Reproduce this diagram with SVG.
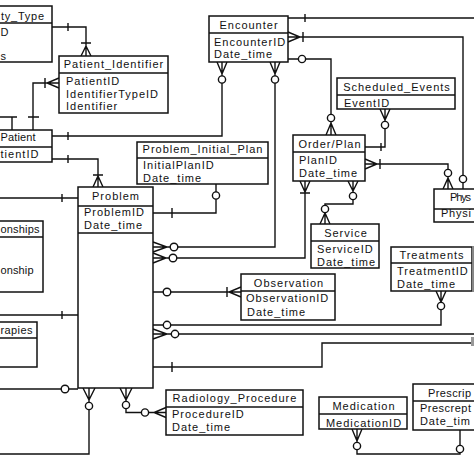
<svg xmlns="http://www.w3.org/2000/svg" width="474" height="474" viewBox="0 0 474 474">
<style>
.box{fill:#fff;stroke:#111;stroke-width:1.5}
.sep{fill:none;stroke:#111;stroke-width:1.4}
.ln{fill:none;stroke:#111;stroke-width:1.4}
.ci{fill:#fff;stroke:#111;stroke-width:1.4}
.t{font-family:"Liberation Sans",Arial,sans-serif;font-size:11px;letter-spacing:1px;fill:#111}
.h{text-anchor:middle}
</style>
<rect x="0" y="0" width="474" height="474" fill="#fff"/>
<g id="connectors">
  <g id="c1"><path class="ln" d="M52,27 H86 V56 M68,23 V31 M81,56 L86,46 L91,56 M81,43 H91"/></g>
  <g id="c2"><path class="ln" d="M59,83 H33 V130 M59,78 L47,83 L59,88 M45,78 V88 M28,117 H39"/></g>
  <g id="c3"><path class="ln" d="M0,117 H17 M12,117 V130"/></g>
  <g id="c4"><path class="ln" d="M52,136 H222 V62 M68,132 V140 M217,62 L222,74 L227,62"/><circle class="ci" cx="222" cy="79.5" r="3.6"/></g>
  <g id="c5"><path class="ln" d="M52,159 H98 V187 M68,155 V163 M93,187 L98,176 L103,187 M93,175 H103"/></g>
  <g id="c6"><path class="ln" d="M0,198 H78 M62,194 V202"/></g>
  <g id="c7"><path class="ln" d="M288,18 H474 M305,14 V22"/></g>
  <g id="c8"><path class="ln" d="M288,37 H463 V189 M288,32 L300,37 L288,42 M303,32 V42"/><circle class="ci" cx="463" cy="179" r="3.6"/></g>
  <g id="c9"><path class="ln" d="M288,59 H331 V135 M326,135 L331,123 L336,135"/><circle class="ci" cx="302" cy="59" r="3.6"/><circle class="ci" cx="331" cy="118" r="3.6"/></g>
  <g id="c10"><path class="ln" d="M275,62 V247 H153 M270,62 L275,74 L280,62 M153,242 L167,247 L153,252"/><circle class="ci" cx="275" cy="79.5" r="3.6"/><circle class="ci" cx="174" cy="247" r="3.8"/></g>
  <g id="c11"><path class="ln" d="M305,181 V258 H153 M300,181 L305,192 L310,181 M300,193 H310 M153,253 L166,258 L153,263"/><circle class="ci" cx="173" cy="258" r="3.8"/></g>
  <g id="c12"><path class="ln" d="M385,109 V147 H365 M380,109 L385,120 L390,109 M381,143 V151"/><circle class="ci" cx="385" cy="125" r="3.6"/></g>
  <g id="c13"><path class="ln" d="M365,164 H448 V189 M365,159 L377,164 L365,169 M380,159 V169 M443,189 L448,178 L453,189"/><circle class="ci" cx="448" cy="173" r="3.6"/></g>
  <g id="c14"><path class="ln" d="M353,181 V204 H325 V224 M348,181 L353,191 L358,181 M320,224 L325,213 L330,224"/><circle class="ci" cx="353" cy="196" r="3.6"/><circle class="ci" cx="325" cy="209" r="3.6"/></g>
  <g id="c15"><path class="ln" d="M216,184 V213 H153 M172,208 V218"/><circle class="ci" cx="216" cy="195.5" r="3.6"/></g>
  <g id="c16"><path class="ln" d="M153,292 H241 M241,287 L229,292 L241,297 M227,287 V297"/><circle class="ci" cx="167" cy="292" r="3.8"/></g>
  <g id="c17"><path class="ln" d="M153,325 H441 V291 M436,291 L441,302 L446,291"/><circle class="ci" cx="167" cy="325" r="3.7"/><circle class="ci" cx="441" cy="306" r="3.6"/></g>
  <g id="c18"><path class="ln" d="M153,334 H474 M153,329 L167,334 L153,339"/><circle class="ci" cx="175" cy="334" r="3.7"/></g>
  <g id="c19"><path class="ln" d="M153,367 H322 V343 H474 M172,362 V372"/><rect x="471" y="337" width="3" height="9" fill="#999"/></g>
  <g id="c20"><path class="ln" d="M0,315 H78 M62,311 V319"/></g>
  <g id="c21"><path class="ln" d="M0,389 H78"/><circle class="ci" cx="65" cy="389" r="3.8"/></g>
  <g id="c22"><path class="ln" d="M89,388 V454 H0 M83,388 L89,400 L95,388"/><circle class="ci" cx="89" cy="406" r="3.6"/></g>
  <g id="c23"><path class="ln" d="M126,388 V412.5 H166 M120,388 L126,400 L132,388 M166,407.5 L154,412.5 L166,417.5"/><circle class="ci" cx="126" cy="405" r="3.6"/><circle class="ci" cx="145" cy="412.5" r="3.6"/></g>
  <g id="c24"><path class="ln" d="M357,429 V454 H460 V430 M352,429 L357,441 L362,429"/><circle class="ci" cx="357" cy="446" r="3.6"/><circle class="ci" cx="460" cy="449" r="3.6"/></g>
</g>
<g id="Identity_Type">
  <rect class="box" x="-10" y="6" width="62" height="56"/><path class="sep" d="M-10,23 H52"/>
  <text class="t" x="1" y="20" textLength="44" lengthAdjust="spacing">ty_Type</text>
  <text class="t" x="0.5" y="36">D</text>
  <text class="t" x="0.5" y="60">s</text>
</g>
<g id="Patient_Identifier">
  <rect class="box" x="59" y="56" width="109" height="57"/><path class="sep" d="M59,73 H168"/>
  <text class="t h" x="114" y="68">Patient_Identifier</text>
  <text class="t" x="66" y="85">PatientID</text>
  <text class="t" x="66" y="97.5">IdentifierTypeID</text>
  <text class="t" x="66" y="110">Identifier</text>
</g>
<g id="Patient">
  <rect class="box" x="-10" y="130" width="62" height="32"/><path class="sep" d="M-10,147 H52"/>
  <text class="t" x="0.5" y="141" textLength="36" lengthAdjust="spacing">Patient</text>
  <text class="t" x="0.5" y="158" textLength="39" lengthAdjust="spacing">tientID</text>
</g>
<g id="Encounter">
  <rect class="box" x="209" y="16" width="79" height="46"/><path class="sep" d="M209,33 H288"/>
  <text class="t h" x="249" y="29">Encounter</text>
  <text class="t" x="214" y="46">EncounterID</text>
  <text class="t" x="214" y="57.5">Date_time</text>
</g>
<g id="Scheduled_Events">
  <rect class="box" x="337" y="78" width="118" height="31"/><path class="sep" d="M337,95 H455"/>
  <text class="t h" x="397" y="91">Scheduled_Events</text>
  <text class="t" x="344" y="106.5">EventID</text>
</g>
<g id="Order_Plan">
  <rect class="box" x="293" y="135" width="72" height="46"/><path class="sep" d="M293,152 H365"/>
  <text class="t h" x="330" y="148">Order/Plan</text>
  <text class="t" x="299" y="164">PlanID</text>
  <text class="t" x="299" y="177">Date_time</text>
</g>
<g id="Problem_Initial_Plan">
  <rect class="box" x="137" y="142" width="131" height="42"/><path class="sep" d="M137,158 H268"/>
  <text class="t h" x="203" y="153">Problem_Initial_Plan</text>
  <text class="t" x="143" y="169">InitialPlanID</text>
  <text class="t" x="143" y="181.5">Date_time</text>
</g>
<g id="Problem">
  <rect class="box" x="78" y="187" width="75" height="201"/><path class="sep" d="M78,206 H153 M78,233 H153"/>
  <text class="t h" x="116" y="200">Problem</text>
  <text class="t" x="84" y="216">ProblemID</text>
  <text class="t" x="84" y="229">Date_time</text>
</g>
<g id="Service">
  <rect class="box" x="311" y="224" width="68" height="44"/><path class="sep" d="M311,241 H379"/>
  <text class="t h" x="346" y="236.5">Service</text>
  <text class="t" x="317" y="253">ServiceID</text>
  <text class="t" x="317" y="265.5">Date_time</text>
</g>
<g id="Physician">
  <rect class="box" x="434" y="189" width="60" height="33"/><path class="sep" d="M434,209 H494"/>
  <text class="t" x="450" y="201" textLength="22" lengthAdjust="spacing">Phys</text>
  <text class="t" x="441" y="217" textLength="31" lengthAdjust="spacing">Physi</text>
</g>
<g id="Treatments">
  <rect class="box" x="391" y="247" width="81" height="44"/><path class="sep" d="M391,263 H472"/>
  <rect x="472" y="246" width="2" height="46" fill="#888"/>
  <text class="t h" x="432" y="259">Treatments</text>
  <text class="t" x="397" y="274.5">TreatmentID</text>
  <text class="t" x="397" y="288">Date_time</text>
</g>
<g id="Observation">
  <rect class="box" x="241" y="274" width="94" height="46"/><path class="sep" d="M241,291 H335"/>
  <text class="t h" x="289" y="287">Observation</text>
  <text class="t" x="246" y="302">ObservationID</text>
  <text class="t" x="247" y="316">Date_time</text>
</g>
<g id="Radiology_Procedure">
  <rect class="box" x="166" y="390" width="137" height="45"/><path class="sep" d="M166,407 H303"/>
  <text class="t h" x="235" y="402">Radiology_Procedure</text>
  <text class="t" x="172" y="418">ProcedureID</text>
  <text class="t" x="172" y="431">Date_time</text>
</g>
<g id="Medication">
  <rect class="box" x="319" y="397" width="88" height="32"/><path class="sep" d="M319,414 H407"/>
  <text class="t h" x="364" y="410">Medication</text>
  <text class="t h" x="364" y="427">MedicationID</text>
</g>
<g id="Prescription">
  <rect class="box" x="413" y="384" width="80" height="46"/><path class="sep" d="M413,401 H493"/>
  <text class="t" x="428" y="396.5" textLength="44" lengthAdjust="spacing">Prescrip</text>
  <text class="t" x="420" y="412" textLength="52" lengthAdjust="spacing">Prescrept</text>
  <text class="t" x="420" y="424.5" textLength="51" lengthAdjust="spacing">Date_tim</text>
</g>
<g id="Relationships">
  <rect class="box" x="-10" y="221" width="53" height="71"/><path class="sep" d="M-10,237 H43"/>
  <text class="t" x="0.5" y="233" textLength="40" lengthAdjust="spacing">onships</text>
  <text class="t" x="0.5" y="274" textLength="34" lengthAdjust="spacing">onship</text>
</g>
<g id="Therapies">
  <rect class="box" x="-10" y="322" width="47" height="45"/><path class="sep" d="M-10,338 H37"/>
  <text class="t" x="0.5" y="334" textLength="33" lengthAdjust="spacing">rapies</text>
</g>
</svg>
